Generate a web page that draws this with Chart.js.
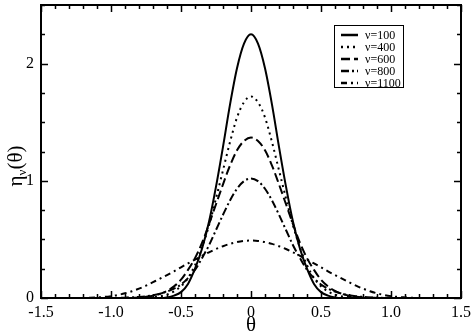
<!doctype html>
<html>
<head>
  <meta charset="utf-8" />
  <title>eta_nu(theta)</title>
  <style>
    html, body { margin:0; padding:0; background:#fff; }
    .wrap { width:474px; height:335px; position:relative; }
  </style>
</head>
<body>
  <div class="wrap"><canvas id="chart" width="474" height="335"></canvas></div>

  <script src="https://cdn.jsdelivr.net/npm/chart.js@4.4.1/dist/chart.umd.min.js"></script>
  <script>
    // theta grid and curves (step 0.05)
    const theta = [-1.5,-1.45,-1.4,-1.35,-1.3,-1.25,-1.2,-1.15,-1.1,-1.05,-1,-0.95,-0.9,-0.85,-0.8,-0.75,-0.7,-0.65,-0.6,-0.55,
      -0.5,-0.45,-0.4,-0.35,-0.3,-0.25,-0.2,-0.15,-0.1,-0.05,0,0.05,0.1,0.15,0.2,0.25,0.3,0.35,0.4,0.45,
      0.5,0.55,0.6,0.65,0.7,0.75,0.8,0.85,0.9,0.95,1,1.05,1.1,1.15,1.2,1.25,1.3,1.35,1.4,1.45,1.5];

    const eta100 = [0,0,0,0,0,0,0,0,0,0,0,0,0,0,0,0,0,0,
      0.005,0.02,0.05,0.12,0.25,0.42,0.65,0.95,1.29,1.65,1.96,2.17,
      2.25,
      2.17,1.96,1.65,1.29,0.95,0.65,0.42,0.25,0.12,0.05,0.02,0.005,
      0,0,0,0,0,0,0,0,0,0,0,0,0,0,0,0,0,0];

    const eta400 = [0,0,0,0,0,0,0,0,0,0,0,0,0,0,
      0.001,0.003,0.007,0.014,0.029,0.056,0.10,0.17,0.28,0.43,0.62,0.85,1.09,1.33,1.54,1.67,
      1.72,
      1.67,1.54,1.33,1.09,0.85,0.62,0.43,0.28,0.17,0.10,0.056,0.029,0.014,0.007,0.003,0.001,
      0,0,0,0,0,0,0,0,0,0,0,0,0,0];

    const eta600 = [0,0,0,0,0,0,0,0,0,0,0,0,
      0.001,0.002,0.005,0.010,0.019,0.035,0.060,0.099,0.156,0.24,0.34,0.47,0.63,0.80,0.97,1.13,1.26,1.34,
      1.37,
      1.34,1.26,1.13,0.97,0.80,0.63,0.47,0.34,0.24,0.156,0.099,0.060,0.035,0.019,0.010,0.005,0.002,0.001,
      0,0,0,0,0,0,0,0,0,0,0,0];

    const eta800 = [0,0,0,0,0,0,0,0,0,0,0,
      0.001,0.003,0.005,0.009,0.015,0.024,0.037,0.055,0.08,0.115,0.17,0.24,0.34,0.45,0.58,0.71,0.832,0.932,0.997,
      1.02,
      0.997,0.932,0.832,0.71,0.58,0.45,0.34,0.24,0.17,0.115,0.08,0.055,0.037,0.024,0.015,0.009,0.005,0.003,0.001,
      0,0,0,0,0,0,0,0,0,0,0];

    const eta1100 = [0,0,0,0,0,0,0,
      0.002,0.005,0.009,0.016,0.026,0.04,0.058,0.08,0.105,0.135,0.165,0.196,0.228,0.262,0.295,0.328,0.36,0.39,0.418,0.442,0.462,0.477,0.487,
      0.49,
      0.487,0.477,0.462,0.442,0.418,0.39,0.36,0.328,0.295,0.262,0.228,0.196,0.165,0.135,0.105,0.08,0.058,0.04,0.026,0.016,0.009,0.005,0.002,
      0,0,0,0,0,0,0];

    const seriesLabels = ['\u03bd=100', '\u03bd=400', '\u03bd=600', '\u03bd=800', '\u03bd=1100'];
    const seriesValues = [eta100, eta400, eta600, eta800, eta1100];
    const seriesDash = [[], [2, 4], [9, 4], [8, 3, 2, 3], [6, 4, 2, 4]];

    const serif = '"Liberation Serif", "DejaVu Serif", serif';

    const datasets = seriesValues.map((vals, k) => ({
      label: seriesLabels[k],
      data: theta.map((t, i) => ({ x: t, y: vals[i] })),
      borderColor: '#000',
      borderWidth: 2,
      borderDash: seriesDash[k],
      pointRadius: 0,
      fill: false,
      cubicInterpolationMode: 'monotone'
    }));

    // frame, inward ticks on all four sides, axis titles, legend box
    const framePlugin = {
      id: 'frame',
      afterDraw(chart) {
        const { ctx, chartArea: a, scales } = chart;
        ctx.save();
        ctx.strokeStyle = '#000';
        ctx.lineWidth = 2;
        ctx.strokeRect(a.left, a.top, a.right - a.left, a.bottom - a.top);

        ctx.lineWidth = 1.5;
        ctx.beginPath();
        for (let i = -15; i <= 15; i++) {
          const px = Math.round(scales.x.getPixelForValue(i / 10)) + 0.5;
          const len = i % 5 === 0 ? 7 : 4;
          ctx.moveTo(px, a.bottom); ctx.lineTo(px, a.bottom - len);
          ctx.moveTo(px, a.top); ctx.lineTo(px, a.top + len);
        }
        for (let i = 0; i <= 10; i++) {
          const py = Math.round(scales.y.getPixelForValue(i / 4)) + 0.5;
          const len = i % 4 === 0 ? 7 : 4;
          ctx.moveTo(a.left, py); ctx.lineTo(a.left + len, py);
          ctx.moveTo(a.right, py); ctx.lineTo(a.right - len, py);
        }
        ctx.stroke();

        // axis titles
        ctx.fillStyle = '#000';
        ctx.textAlign = 'center';
        ctx.textBaseline = 'middle';
        ctx.font = '21px ' + serif;
        ctx.fillText('\u03b8', (a.left + a.right) / 2, 325);

        ctx.save();
        ctx.translate(15, 166);
        ctx.rotate(-Math.PI / 2);
        ctx.textAlign = 'left';
        ctx.textBaseline = 'alphabetic';
        ctx.font = '21px ' + serif;
        const eta = '\u03b7';
        const w1 = ctx.measureText(eta).width;
        ctx.font = '13px ' + serif;
        const w2 = ctx.measureText('\u03bd').width;
        ctx.font = '21px ' + serif;
        const w3 = ctx.measureText('(\u03b8)').width;
        let x0 = -(w1 + w2 + w3) / 2;
        ctx.fillText(eta, x0, 7);
        ctx.font = '13px ' + serif;
        ctx.fillText('\u03bd', x0 + w1, 11);
        ctx.font = '21px ' + serif;
        ctx.fillText('(\u03b8)', x0 + w1 + w2, 7);
        ctx.restore();

        // legend
        ctx.lineWidth = 1;
        ctx.strokeRect(334.5, 25.5, 69, 62);
        ctx.font = '12px ' + serif;
        ctx.textAlign = 'left';
        ctx.textBaseline = 'middle';
        chart.data.datasets.forEach((ds, k) => {
          const y = 35 + k * 12;
          ctx.lineWidth = 2.5;
          ctx.setLineDash(ds.borderDash);
          ctx.beginPath();
          ctx.moveTo(341, y); ctx.lineTo(358, y);
          ctx.stroke();
          ctx.setLineDash([]);
          ctx.fillText(ds.label, 365, y + 1);
        });
        ctx.restore();
      }
    };

    new Chart(document.getElementById('chart').getContext('2d'), {
      type: 'line',
      data: { datasets },
      options: {
        responsive: false,
        animation: false,
        layout: { padding: { top: 5, right: 13, left: 0, bottom: 0 } },
        plugins: { legend: { display: false }, tooltip: { enabled: false } },
        scales: {
          x: {
            type: 'linear', min: -1.5, max: 1.5,
            grid: { display: false, drawTicks: false },
            border: { display: false },
            ticks: { stepSize: 0.5, padding: 5, color: '#000', font: { family: serif, size: 16 }, maxRotation: 0 },
            afterFit(s) { s.height = 37; s.paddingLeft = 0; s.paddingRight = 0; }
          },
          y: {
            type: 'linear', min: 0, max: 2.5,
            grid: { display: false, drawTicks: false },
            border: { display: false },
            ticks: { stepSize: 1, padding: 7, color: '#000', font: { family: serif, size: 16 } },
            afterBuildTicks(s) { s.ticks = s.ticks.filter(t => Number.isInteger(t.value)); },
            afterFit(s) { s.width = 41; s.paddingTop = 0; s.paddingBottom = 0; }
          }
        }
      },
      plugins: [framePlugin]
    });
  </script>
</body>
</html>
